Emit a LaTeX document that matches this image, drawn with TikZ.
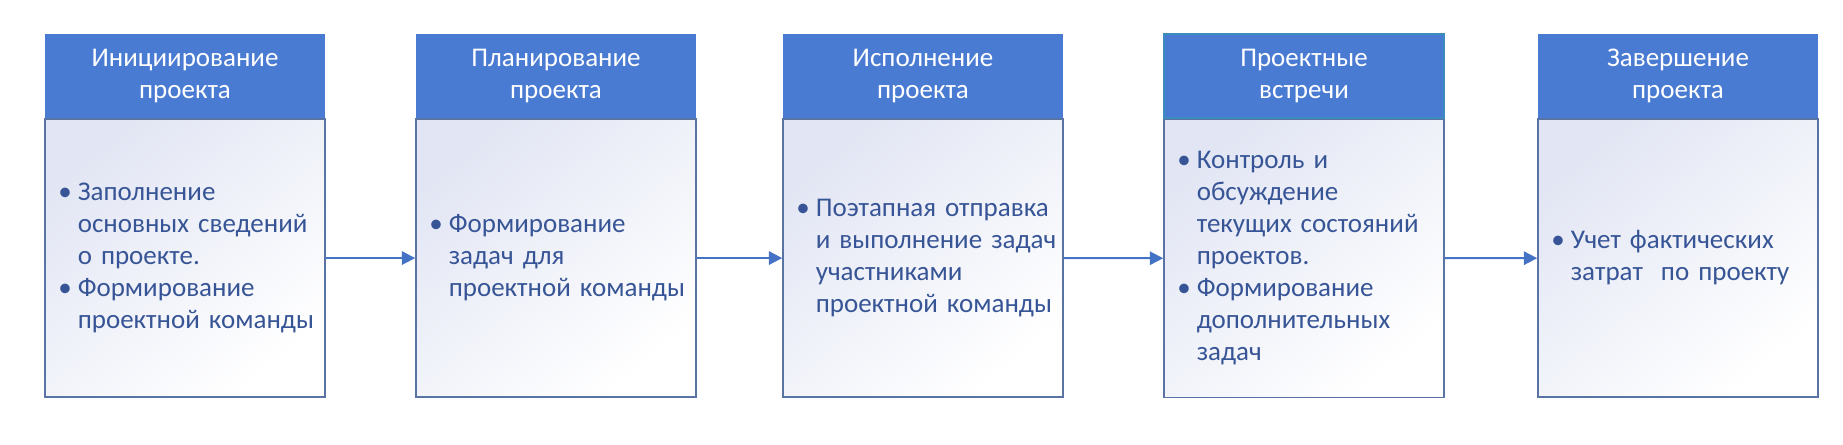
\documentclass[tikz,border=0pt]{standalone}
\usepackage{fontspec}
\setmainfont{Carlito}
\usepackage{xcolor}
\usetikzlibrary{arrows.meta, positioning}

\definecolor{headblue}{RGB}{74,123,211}
\definecolor{textblue}{RGB}{55,85,150}
\definecolor{edgeblue}{RGB}{90,115,165}
\definecolor{arrowblue}{RGB}{68,114,196}
\definecolor{bodytint}{RGB}{226,230,244}
\definecolor{selblue}{RGB}{60,140,190}

\newcommand{\pts}[1]{\begin{tabular}{@{}l@{\hspace{4.5pt}}l@{}}#1\end{tabular}}
\newcommand{\bul}{\textbullet}

\begin{document}
\begin{tikzpicture}[
    x=0.75pt, y=-0.75pt,
    font=\fontsize{20.25}{24}\selectfont,
    head/.style={rectangle, fill=headblue, text=white, minimum width=210pt, minimum height=63pt, inner sep=0pt, align=center},
    body/.style={rectangle, draw=edgeblue, line width=1.2pt, top color=bodytint, bottom color=white, shading angle=40, minimum width=210pt, minimum height=208.5pt, inner xsep=10pt, inner ysep=0pt, text width=190pt, align=left, text=textblue},
    flow/.style={draw=arrowblue, line width=1.5pt, -{Triangle[length=10pt, width=10pt]}},
]
    \useasboundingbox (0,0) rectangle (1843,445);

    % Stage headers
    \node[head] (head1) at (185,76) {Инициирование\\проекта};
    \node[head] (head2) at (556,76) {Планирование\\проекта};
    \node[head] (head3) at (923,76) {Исполнение\\проекта};
    \node[head, draw=selblue, line width=0.8pt] (head4) at (1304,76) {Проектные\\встречи};
    \node[head] (head5) at (1678,76) {Завершение\\проекта};

    % Stage contents
    \node[body, below=0pt of head1] (body1) {\pts{\bul & Заполнение\\ & основных сведений\\ & о проекте.\\ \bul & Формирование\\ & проектной команды}};
    \node[body, below=0pt of head2] (body2) {\pts{\bul & Формирование\\ & задач для\\ & проектной команды}};
    \node[body, below=0pt of head3] (body3) {\pts{\bul & Поэтапная отправка\\ & и выполнение задач\\ & участниками\\ & проектной команды}};
    \node[body, below=0pt of head4] (body4) {\pts{\bul & Контроль и\\ & обсуждение\\ & текущих состояний\\ & проектов.\\ \bul & Формирование\\ & дополнительных\\ & задач}};
    \node[body, below=0pt of head5] (body5) {\pts{\bul & Учет фактических\\ & затрат\ \ по проекту}};

    % Connect stages
    \draw[flow] (body1) -- (body2);
    \draw[flow] (body2) -- (body3);
    \draw[flow] (body3) -- (body4);
    \draw[flow] (body4) -- (body5);
\end{tikzpicture}
\end{document}
